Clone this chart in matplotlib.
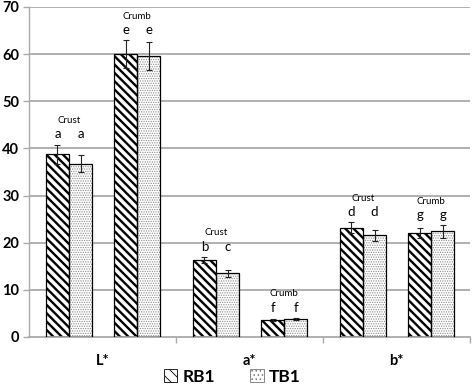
import matplotlib
matplotlib.use("Agg")
import matplotlib.pyplot as plt
import numpy as np
from matplotlib.patches import Patch

categories = ["L*", "a*", "b*"]
series = ["RB1", "TB1"]

rb1_crust = [38.8, 16.3, 23.2]
rb1_crust_err = [2.0, 0.7, 1.1]
tb1_crust = [36.8, 13.5, 21.6]
tb1_crust_err = [1.9, 0.8, 1.2]
rb1_crumb = [60.0, 3.6, 22.0]
rb1_crumb_err = [2.9, 0.2, 1.1]
tb1_crumb = [59.6, 3.9, 22.4]
tb1_crumb_err = [3.0, 0.2, 1.3]

crust_letters_rb1 = ["a", "b", "d"]
crust_letters_tb1 = ["a", "c", "d"]
crumb_letters_rb1 = ["e", "f", "g"]
crumb_letters_tb1 = ["e", "f", "g"]
group_names = ["Crust", "Crumb"]

yticks = [0, 10, 20, 30, 40, 50, 60, 70]

FONT = "Lato"
HATCH_R = "\\\\\\\\"
HATCH_T = "......."
LW_R = 1.7
LW_T = 0.6

fig = plt.figure(figsize=(4.74, 3.85), dpi=100)
ax = fig.add_axes([29/474, 48/385, 441/474, 330/385])

x = np.arange(len(categories))
w = 0.157
pair_off = [-0.228, 0.236]
grid_c = "#a9a9a9"

for yv in yticks[1:]:
    ax.axhline(yv, color=grid_c, lw=1.3, zorder=0)

def draw(xpos, vals, errs, hatch, hcol, hlw):
    plt.rcParams['hatch.linewidth'] = hlw
    ax.bar(xpos, vals, w, color="white", edgecolor=hcol, hatch=hatch, linewidth=0, zorder=2)
    ax.bar(xpos, vals, w, color="none", edgecolor="black", linewidth=0.9, zorder=3)
    ax.errorbar(xpos, vals, yerr=errs, fmt="none", ecolor="#222222", elinewidth=0.8,
                capsize=2, capthick=0.8, zorder=4)

groups = [
    (rb1_crust, rb1_crust_err, tb1_crust, tb1_crust_err, crust_letters_rb1, crust_letters_tb1),
    (rb1_crumb, rb1_crumb_err, tb1_crumb, tb1_crumb_err, crumb_letters_rb1, crumb_letters_tb1),
]

for gi, (rv, re, tv, te, lr, lt) in enumerate(groups):
    xr = x + pair_off[gi] - w/2
    xt = x + pair_off[gi] + w/2
    draw(xr, rv, re, HATCH_R, "black", LW_R)
    draw(xt, tv, te, HATCH_T, "#8c8c8c", LW_T)
    for i in range(len(categories)):
        top = max(rv[i] + re[i], tv[i] + te[i])
        ax.annotate(lr[i], (xr[i], top), xytext=(0, 3), textcoords="offset points",
                    ha="center", va="bottom", fontsize=9.5, family=FONT)
        ax.annotate(lt[i], (xt[i], top), xytext=(0, 3), textcoords="offset points",
                    ha="center", va="bottom", fontsize=9.5, family=FONT)
        ax.annotate(group_names[gi], (x[i] + pair_off[gi], top), xytext=(0, 14),
                    textcoords="offset points", ha="center", va="bottom",
                    fontsize=7, family=FONT)

ax.set_xlim(-0.5, 2.5)
ax.set_ylim(0, 70)
ax.set_yticks(yticks)
ax.set_yticklabels([str(v) for v in yticks], fontsize=10.5, fontweight="bold", family=FONT)
ax.tick_params(axis="y", length=4, color=grid_c, width=1.0, pad=3)
ax.set_xticks(x)
ax.set_xticklabels(categories, fontsize=10.5, fontweight="bold", family=FONT)
ax.tick_params(axis="x", which="major", length=0, pad=12)
ax.set_xticks([0.5, 1.5, 2.5], minor=True)
ax.tick_params(axis="x", which="minor", length=4, color=grid_c, width=1.0)

for s in ["top", "right"]:
    ax.spines[s].set_visible(False)
ax.spines["left"].set_color(grid_c)
ax.spines["bottom"].set_color(grid_c)
ax.spines["left"].set_linewidth(1.0)
ax.spines["bottom"].set_linewidth(1.3)

plt.rcParams['hatch.linewidth'] = LW_R
h1 = Patch(facecolor="white", edgecolor="black", hatch="\\\\\\", linewidth=0.6, label="RB1")
plt.rcParams['hatch.linewidth'] = LW_T
h2 = Patch(facecolor="white", edgecolor="#777777", hatch="....", linewidth=0.6, label="TB1")
fig.legend(handles=[h1, h2], loc="lower center", bbox_to_anchor=(0.49, -0.04), ncol=2,
           frameon=False, prop={"family": FONT, "weight": "bold", "size": 12.5},
           handlelength=0.8, handleheight=0.8, handletextpad=0.3, columnspacing=2.0)

fig.savefig("out.png", dpi=100)
